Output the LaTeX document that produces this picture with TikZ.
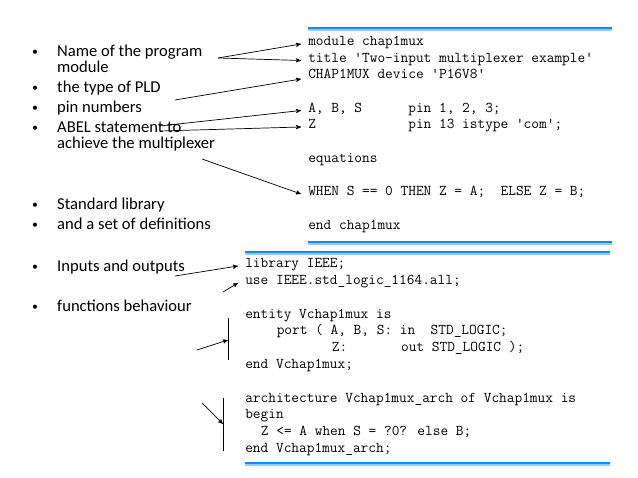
\documentclass[tikz,border=0pt]{standalone}
\usepackage{fontspec}
\setmainfont{Carlito}
\usepackage{tikz}
\usetikzlibrary{arrows}

\definecolor{ruleblue}{RGB}{25,135,235}
\definecolor{rulelight}{RGB}{150,200,250}
\tikzset{
  item/.style={anchor=base west, inner sep=0, font=\fontsize{14.1}{16}\selectfont},
  dot/.style={anchor=base west, inner sep=0, font=\fontsize{10}{12}\selectfont},
  code/.style={anchor=base west, inner xsep=6pt, inner ysep=0, text height=6pt, text depth=2.6pt,
    font=\ttfamily\fontsize{12.7}{14}\selectfont},
  ptr/.style={black, line width=.6pt, ->, >=stealth'},
  bar/.style={black, line width=.6pt},
}

\begin{document}
\begin{tikzpicture}[x=.85pt, y=-.85pt]
\useasboundingbox (0,0) rectangle (638,478);

% bullets on the left
\foreach \y in {57,93,113,133,210,230,272,312} {
  \node[dot] (bul\y) at (32,\y) {\raisebox{1.2pt}{\textbullet}};
}
\node[item] (name)  at (57,57)  {Name of the program};
\node[item] (name2) at (57,73)  {module};
\node[item] (pld)   at (57,93)  {the type of PLD};
\node[item] (pins)  at (57,113) {pin numbers};
\node[item] (abel)  at (57,133) {ABEL statement to};
\node[item] (abel2) at (57,149) {achieve the multiplexer};
\node[item] (stdlib) at (57,210) {Standard library};
\node[item] (defs)  at (57,230) {and a set of definitions};
\node[item] (io)    at (57,272) {Inputs and outputs};
\node[item] (func)  at (57,312) {functions behaviour};

% blue rules round the listings
\foreach \xa/\xb/\y in {308/612/28, 308/612/242, 245/610/252, 245/610/463} {
  \draw[ruleblue, line width=2pt] (\xa,\y)--(\xb,\y);
  \draw[rulelight, line width=1pt] (\xa,\y+2)--(\xb,\y+2);
}

% ABEL listing
\node[code] (mod)   at (301,46)    {module chap1mux};
\node[code] (title) at (301,62.5)  {title \textquotesingle Two-input multiplexer example\textquotesingle};
\node[code] (chap)  at (301,79)    {CHAP1MUX device \textquotesingle P16V8\textquotesingle};
\node[code] (abs)   at (301,112.5) {A, B, S\ \ \ \ \ \ pin 1, 2, 3;};
\node[code] (zpin)  at (301,129)   {Z\ \ \ \ \ \ \ \ \ \ \ \ pin 13 istype \textquotesingle com\textquotesingle;};
\node[code] (eqs)   at (301,162.5) {equations};
\node[code] (when)  at (301,196)   {WHEN S == 0 THEN Z = A;\ \ ELSE Z = B;};
\node[code] (endm)  at (301,229.5) {end chap1mux};

% VHDL listing
\node[code] (lib)   at (238,268)   {library IEEE;};
\node[code] (use)   at (238,285)   {use IEEE.std\_logic\_1164.all;};
\node[code] (ent)   at (238,318.5) {entity Vchap1mux is};
\node[code] (port)  at (269.5,335) {port ( A, B, S: in\ \ STD\_LOGIC;};
\node[code] (zout)  at (324.6,352) {Z:\ \ \ \ \ \ \ out STD\_LOGIC );};
\node[code] (endv)  at (238,369)   {end Vchap1mux;};
\node[code] (arch)  at (238,402.5) {architecture Vchap1mux\_arch of Vchap1mux is};
\node[code] (beg)   at (238,419)   {begin};
\node[code] (zas)   at (253.7,436) {Z <= A when S = ?0? else B;};
\node[code] (enda)  at (238,453)   {end Vchap1mux\_arch;};

% bars beside the VHDL blocks
\coordinate (bar1t) at (228,318);
\coordinate (bar1b) at (228,360);
\coordinate (bar1m) at (228,340);
\coordinate (bar2t) at (223,398);
\coordinate (bar2b) at (223,451);
\coordinate (bar2m) at (223,424);
\draw[bar] (bar1t)--(bar1b);
\draw[bar] (bar2t)--(bar2b);

% arrow tails
\coordinate (tname) at (218,58);
\coordinate (tpld)  at (175,100);
\coordinate (tpin)  at (160,126);
\coordinate (tabel) at (160,131);
\coordinate (twhen) at (202,159);
\coordinate (tio)   at (175,276);
\coordinate (tuse)  at (223,292);
\coordinate (tent)  at (197,350);
\coordinate (tarch) at (202,403);

\draw[ptr] (tname)--(mod.west);
\draw[ptr] (tname)--(title.west);
\draw[ptr] (tpld)--(chap.base west);
\draw[ptr] (tpin)--(abs.west);
\draw[ptr] (tabel)--(zpin.west);
\draw[ptr] (twhen)--(when.west);
\draw[ptr] (tio)--(lib.west);
\draw[ptr] (tuse)--(use.west);
\draw[ptr] (tent)--(bar1m);
\draw[ptr] (tarch)--(bar2m);
\end{tikzpicture}
\end{document}
